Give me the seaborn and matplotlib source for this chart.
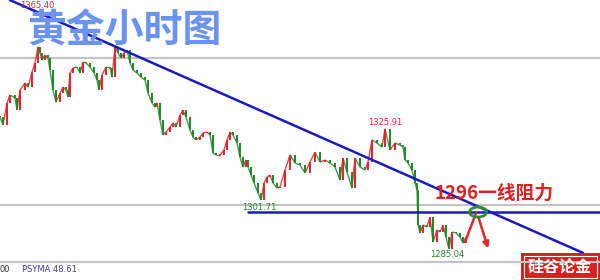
import matplotlib
matplotlib.use("Agg")
import matplotlib.pyplot as plt
from matplotlib.patches import Ellipse, Rectangle
from matplotlib.lines import Line2D
from matplotlib.collections import LineCollection
import seaborn as sns
import numpy as np

sns.set_theme(style="white")
plt.rcParams['font.family'] = ['Noto Sans CJK SC', 'DejaVu Sans']

# ---- data (hourly gold bars) ----
hours = [0, 3, 7, 10, 15, 17, 20, 25, 28, 32,
         35, 38, 40, 42, 45, 48, 50, 53, 56, 60,
         63, 66, 68, 70, 73, 77, 80, 83, 86, 90,
         94, 97, 99, 102, 106, 110, 112, 115, 118, 121,
         124, 127, 130, 133, 137, 141, 145, 148, 152, 155,
         157, 160, 163, 166, 170, 173, 176, 180, 183, 186,
         190, 193, 196, 200, 203, 207, 210, 213, 216, 220,
         224, 227, 230, 233, 237, 240, 243, 246, 248, 251,
         254, 258, 261, 264, 267, 270, 273, 277, 280, 285,
         290, 295, 300, 305, 310, 315, 320, 325, 330, 335,
         340, 343, 347, 352, 355, 360, 365, 368, 372, 377,
         382, 385, 390, 395, 400, 403, 405, 408, 412, 415,
         417, 418, 420, 423, 427, 430, 433, 437, 440, 443,
         446, 449, 452, 456, 460, 463, 466]
closes = [1329.9, 1327.2, 1334.7, 1337.4, 1336.4, 1332.3, 1339.1, 1341.5, 1340.1, 1345.2,
          1348.3, 1353.7, 1351.7, 1349.3, 1351.0, 1350.0, 1345.9, 1339.1, 1335.0, 1338.1,
          1340.1, 1339.1, 1336.7, 1344.9, 1346.6, 1346.9, 1344.9, 1348.6, 1348.3, 1346.9,
          1344.9, 1342.5, 1339.1, 1344.2, 1346.9, 1346.6, 1343.5, 1353.7, 1351.7, 1350.0,
          1351.7, 1352.7, 1348.3, 1345.9, 1344.9, 1343.5, 1342.5, 1338.1, 1334.7, 1333.3,
          1334.7, 1328.9, 1323.8, 1324.8, 1326.5, 1327.9, 1326.5, 1330.6, 1332.3, 1329.9,
          1325.5, 1323.1, 1322.1, 1323.1, 1324.5, 1324.8, 1323.8, 1317.7, 1317.0, 1317.0,
          1318.7, 1322.1, 1324.8, 1323.8, 1321.1, 1316.3, 1312.9, 1315.3, 1312.9, 1310.2,
          1307.5, 1304.1, 1301.71, 1307.5, 1309.5, 1310.2, 1307.5, 1305.8, 1306.1, 1311.9,
          1317.0, 1314.3, 1313.6, 1310.9, 1314.6, 1318.0, 1314.6, 1315.3, 1314.3, 1312.9,
          1308.5, 1316.0, 1311.2, 1305.8, 1316.0, 1312.9, 1311.9, 1314.6, 1322.1, 1321.1,
          1319.7, 1325.91, 1318.7, 1321.1, 1320.4, 1319.7, 1315.3, 1314.3, 1311.9, 1307.5,
          1305.1, 1293.2, 1290.5, 1293.2, 1292.5, 1295.9, 1287.4, 1291.5, 1290.8, 1293.2,
          1289.1, 1285.04, 1290.8, 1290.5, 1289.1, 1287.1, 1289.1]

marked_high = "1365.40"
marked_values = ["1325.91", "1301.71", "1285.04"]
round_levels = [1350.0, 1300.0]
trend_x = [10, 583]
trend_y = [1369.7, 1283.7]
resist_x = [248, 600]
resist_level = 1297.6
title = "黄金小时图"
note = "1296一线阻力"
indicator = "PSYMA 48.61"
stamp = "硅谷论金"

# ---- figure ----
fig = plt.figure(figsize=(6, 2.8), dpi=100)
ax = fig.add_axes([0, 0, 1, 1])
ax.set_xlim(0, 600)
ax.set_ylim(1274.49, 1369.72)
ax.axis('off')

RED = '#e3262b'
GREEN = '#23882a'
BLUE = '#1a1ac4'

for lv in round_levels:
    ax.axhline(lv, color='#c2c2c2', lw=1.5, zorder=1)
fig.add_artist(Line2D([0, 1], [1 - 262 / 280] * 2, color='#c2c2c2', lw=1.5))

opens = [closes[0]] + closes[:-1]
bottoms = [min(o, c) for o, c in zip(opens, closes)]
heights = [max(abs(c - o), 0.4) for o, c in zip(opens, closes)]
colors = [RED if c >= o else GREEN for o, c in zip(opens, closes)]

# thin connecting wicks between consecutive bars
segs = [[(hours[i - 1], closes[i - 1]), (hours[i], closes[i])] for i in range(1, len(hours))]
ax.add_collection(LineCollection(segs, colors=colors[1:], linewidths=1.0, zorder=2, alpha=0.85))
ax.bar(hours, heights, bottom=bottoms, width=2.2, color=colors, linewidth=0, zorder=2)

sns.lineplot(x=trend_x, y=trend_y, ax=ax, color=BLUE, lw=1.8, zorder=3)
sns.lineplot(x=resist_x, y=[resist_level, resist_level], ax=ax, color=BLUE, lw=1.8, zorder=3)

# extreme labels
i_hi = int(np.argmax(closes))
ax.text(hours[i_hi] - 1, 1368.0, marked_high, color=RED, fontsize=6, ha='center', va='center',
        family='DejaVu Sans', zorder=4)
lab_pos = {"1325.91": (385, 1328.2, RED), "1301.71": (259, 1299.3, GREEN),
           "1285.04": (447, 1283.0, GREEN)}
for v in marked_values:
    x, y, c = lab_pos[v]
    ax.text(x, y, v, color=c, fontsize=6, ha='center', va='center', family='DejaVu Sans', zorder=4)

# arrows + ellipse
ax.plot([465, 476], [1287.4, 1297.2], color=RED, lw=1.8, zorder=5, solid_capstyle='round')
ax.annotate('', xy=(489, 1284.3), xytext=(478, 1296.3),
            arrowprops=dict(arrowstyle='-|>', color=RED, lw=1.8, mutation_scale=9), zorder=5)
ax.add_patch(Ellipse((478, resist_level), width=17, height=3.4, fill=False,
                     edgecolor='#2e8b3a', lw=2, zorder=6))

# texts
fig.text(27 / 600, 1 - 31 / 280, title, color='#6b93f3', fontsize=28, fontweight='bold',
         ha='left', va='center', zorder=10)
ax.text(435, 1304.1, note, color='#e0201c', fontsize=13.5, fontweight='bold',
        ha='left', va='center', zorder=7)
fig.text(0 / 600, 1 - 269 / 280, "00", color='#333333', fontsize=6, ha='left', va='center',
         family='DejaVu Sans')
fig.text(22 / 600, 1 - 269 / 280, indicator, color='#4a3aa0', fontsize=6, ha='left', va='center',
         family='DejaVu Sans')

# stamp
fig.add_artist(Rectangle((521 / 600, 0), 79 / 600, 27 / 280, transform=fig.transFigure,
                         facecolor='#d8201c', edgecolor='none'))
fig.add_artist(Rectangle((524 / 600, 2 / 280), 73 / 600, 22 / 280, transform=fig.transFigure,
                         facecolor='none', edgecolor='white', lw=0.8))
fig.text(560 / 600, 1 - 267 / 280, stamp, color='white', fontsize=11.5, fontweight='bold',
         ha='center', va='center')

fig.savefig('out.png', dpi=100)
